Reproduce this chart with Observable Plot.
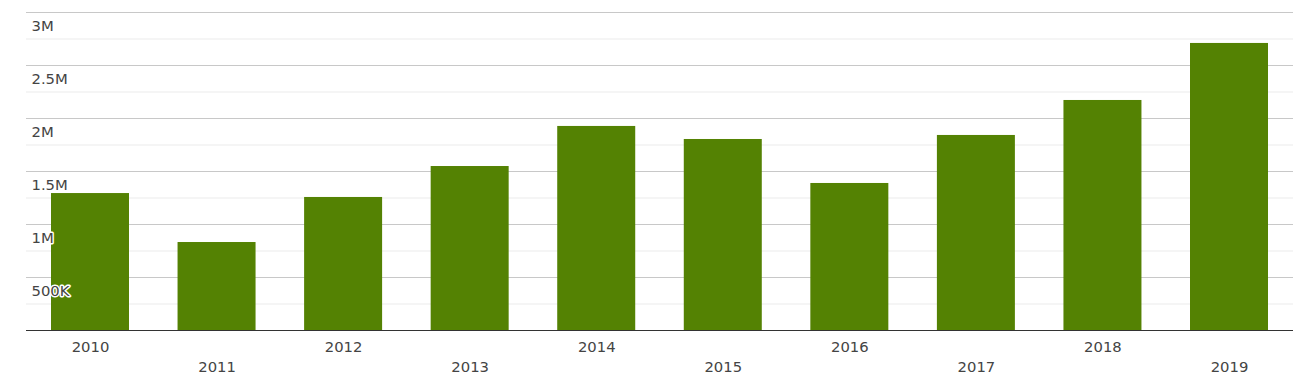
<!DOCTYPE html>
<html>
<head>
<meta charset="utf-8">
<script src="https://cdn.jsdelivr.net/npm/d3@7"></script>
<script src="https://cdn.jsdelivr.net/npm/@observablehq/plot@0.6"></script>
<style>
  html, body { margin: 0; padding: 0; background: #fff; }
  svg { display: block; }
</style>
</head>
<body>
<div id="chart"></div>
<script>
const years = ["2010","2011","2012","2013","2014","2015","2016","2017","2018","2019"];
const values = [1292000, 830000, 1255000, 1547000, 1925000, 1802000, 1387000, 1840000, 2170000, 2708000];
const majorTicks = [500000, 1000000, 1500000, 2000000, 2500000, 3000000];
const minorTicks = [250000, 750000, 1250000, 1750000, 2250000, 2750000];
const tickLabels = ["500K", "1M", "1.5M", "2M", "2.5M", "3M"];

const data = years.map((y, i) => ({year: y, value: values[i]}));
const labels = majorTicks.map((v, i) => ({v, label: tickLabels[i]}));
const evenYears = years.filter((_, i) => i % 2 === 0);
const oddYears = years.filter((_, i) => i % 2 === 1);

const font = "DejaVu Sans, sans-serif";
const fs = 14.8;
const chart = Plot.plot({
  width: 1293,
  height: 384,
  marginLeft: 26,
  marginRight: 0,
  marginTop: 12,
  marginBottom: 54,
  style: {fontFamily: font, fontSize: fs + "px", color: "#444", background: "#fff"},
  x: {domain: years, paddingInner: 0.3837, paddingOuter: 0.1975, round: false, label: null},
  y: {domain: [0, 3000000], label: null},
  marks: [
    Plot.ruleY(minorTicks, {stroke: "#ebebeb", strokeWidth: 1}),
    Plot.ruleY(majorTicks, {stroke: "#c8c8c8", strokeWidth: 1}),
    Plot.barY(data, {x: "year", y: "value", fill: "#548203"}),
    Plot.ruleY([0], {stroke: "#333", strokeWidth: 1}),
    Plot.text(labels, {y: "v", text: "label", frameAnchor: "left", textAnchor: "start", dx: 5, dy: 14, fill: "#444", stroke: "white", strokeWidth: 3, fontSize: fs}),
    Plot.axisX({ticks: evenYears, tickSize: 0, tickPadding: 11, fontSize: fs, fill: "#444"}),
    Plot.axisX({ticks: oddYears, tickSize: 0, tickPadding: 31, fontSize: fs, fill: "#444"}),
    Plot.axisY({ticks: [], label: null})
  ]
});
document.getElementById("chart").appendChild(chart);
</script>
</body>
</html>
